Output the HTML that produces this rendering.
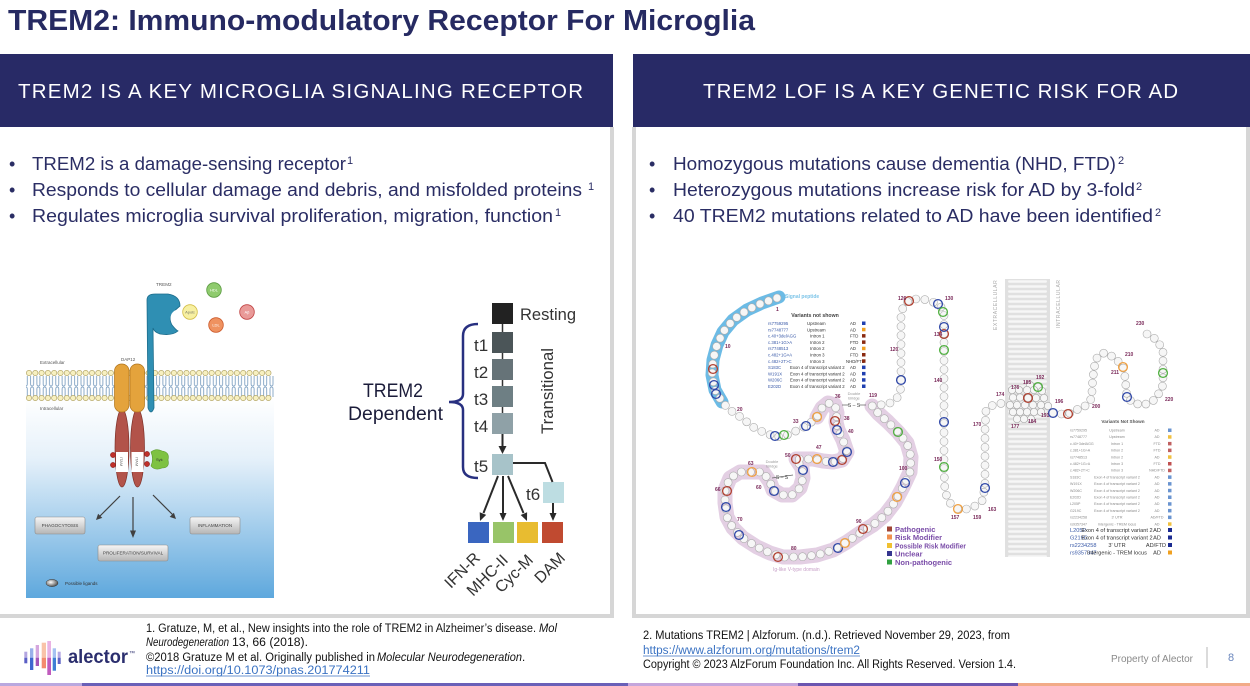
<!DOCTYPE html>
<html><head><meta charset="utf-8">
<style>
html,body{margin:0;padding:0;background:#fff;width:1250px;height:686px;overflow:hidden}
svg{display:block}
text{font-family:"Liberation Sans",Arial,sans-serif}
</style></head><body>
<svg width="1250" height="686" viewBox="0 0 1250 686" xmlns="http://www.w3.org/2000/svg">
<defs>
 <linearGradient id="cellbg" x1="0" y1="0" x2="0" y2="1">
  <stop offset="0" stop-color="#ffffff"/><stop offset="0.3" stop-color="#e6f1fa"/><stop offset="1" stop-color="#5ea8dd"/>
 </linearGradient>
 <linearGradient id="box" x1="0" y1="0" x2="0" y2="1"><stop offset="0" stop-color="#f6f6f6"/><stop offset="1" stop-color="#b5b5b5"/></linearGradient>
 <radialGradient id="lig" cx="0.4" cy="0.4" r="0.6"><stop offset="0" stop-color="#ffffff"/><stop offset="1" stop-color="#555"/></radialGradient>
 <pattern id="tails" width="6.3" height="24" patternUnits="userSpaceOnUse" x="29" y="375">
  <path d="M1.6,1 V9 Q1.6,11 3.1,11 Q4.6,11 4.6,9 V1 M1.6,22 V14 Q1.6,12 3.1,12 Q4.6,12 4.6,14 V22" stroke="#7096bb" stroke-width="0.8" fill="none"/>
 </pattern>
 <pattern id="mem" width="45" height="5" patternUnits="userSpaceOnUse" x="1005" y="279">
  <rect width="45" height="5" fill="#e0e0e0"/><rect x="3" y="1.3" width="39" height="2.4" rx="1.2" fill="#f6f6f6"/>
 </pattern>
</defs>

<!-- Title -->
<text x="8" y="30" font-size="29" font-weight="bold" fill="#262a62" textLength="747" lengthAdjust="spacingAndGlyphs">TREM2: Immuno-modulatory Receptor For Microglia</text>

<!-- Left panel -->
<rect x="0" y="54" width="613" height="73" fill="#282a66"/>
<rect x="610" y="127" width="4" height="491" fill="#d6d6d6"/>
<rect x="0" y="614" width="614" height="4" fill="#d6d6d6"/>
<text x="18" y="98" font-size="20.5" fill="#ffffff" textLength="565" lengthAdjust="spacing">TREM2 IS A KEY MICROGLIA SIGNALING RECEPTOR</text>

<g fill="#2a2d64">
 <text x="9" y="170" font-size="18">•</text>
 <text x="9" y="196" font-size="18">•</text>
 <text x="9" y="222" font-size="18">•</text>
 <text x="32" y="170" font-size="18" textLength="314" lengthAdjust="spacingAndGlyphs">TREM2 is a damage-sensing receptor</text>
 <text x="347" y="164" font-size="11">1</text>
 <text x="32" y="196" font-size="18" textLength="550" lengthAdjust="spacingAndGlyphs">Responds to cellular damage and debris, and misfolded proteins</text>
 <text x="588" y="190" font-size="11">1</text>
 <text x="32" y="222" font-size="18" textLength="521" lengthAdjust="spacingAndGlyphs">Regulates microglia survival proliferation, migration, function</text>
 <text x="555" y="216" font-size="11">1</text>
</g>

<!-- Right panel -->
<rect x="633" y="54" width="617" height="73" fill="#282a66"/>
<rect x="632" y="127" width="4" height="491" fill="#d6d6d6"/>
<rect x="1246" y="127" width="4" height="491" fill="#d6d6d6"/>
<rect x="632" y="614" width="618" height="4" fill="#d6d6d6"/>
<text x="703" y="98" font-size="20.5" fill="#ffffff" textLength="475" lengthAdjust="spacing">TREM2 LOF IS A KEY GENETIC RISK FOR AD</text>

<g fill="#2a2d64">
 <text x="649" y="170" font-size="18">•</text>
 <text x="649" y="196" font-size="18">•</text>
 <text x="649" y="222" font-size="18">•</text>
 <text x="673" y="170" font-size="18" textLength="443" lengthAdjust="spacingAndGlyphs">Homozygous mutations cause dementia (NHD, FTD)</text>
 <text x="1118" y="164" font-size="11">2</text>
 <text x="673" y="196" font-size="18" textLength="462" lengthAdjust="spacingAndGlyphs">Heterozygous mutations increase risk for AD by 3-fold</text>
 <text x="1136" y="190" font-size="11">2</text>
 <text x="673" y="222" font-size="18" textLength="480" lengthAdjust="spacingAndGlyphs">40 TREM2 mutations related to AD have been identified</text>
 <text x="1155" y="216" font-size="11">2</text>
</g>

<!-- ============ Left cell diagram ============ -->
<rect x="26" y="398" width="248" height="200" fill="url(#cellbg)"/>
<rect x="26" y="375" width="248" height="23" fill="url(#tails)"/>
<path d="M29,373 H273" stroke="#b5a86a" stroke-width="6" stroke-dasharray="0 6.3" stroke-linecap="round"/>
<path d="M29,373 H273" stroke="#f7f0c0" stroke-width="4.6" stroke-dasharray="0 6.3" stroke-linecap="round"/>
<path d="M29,398 H273" stroke="#b5a86a" stroke-width="6" stroke-dasharray="0 6.3" stroke-linecap="round"/>
<path d="M29,398 H273" stroke="#f7f0c0" stroke-width="4.6" stroke-dasharray="0 6.3" stroke-linecap="round"/>

<!-- TREM2 receptor -->
<path d="M147,300 Q147,294 155,294 L168,294 Q180,296 180,306 Q176,309 173,313 Q168,318 172,325 Q176,330 178,331 Q172,336 160,334 Q154,332 153,328 L154,408 Q151,416 148,408 L147,300 Z" fill="#2f8fb3" stroke="#1d6d8c" stroke-width="0.8"/>
<circle cx="179" cy="318" r="8.5" fill="#ffffff"/>
<text x="156" y="286" font-size="4.6" fill="#555">TREM2</text>

<!-- ligands -->
<circle cx="214" cy="290" r="7.3" fill="#8fcb6e" stroke="#5a9a40" stroke-width="0.8"/>
<text x="214" y="291.6" font-size="4" fill="#fff" text-anchor="middle">HDL</text>
<circle cx="190" cy="312" r="7.3" fill="#f7f0a2" stroke="#d2bc44" stroke-width="0.8"/>
<text x="190" y="313.6" font-size="4" fill="#776" text-anchor="middle">ApoE</text>
<circle cx="216" cy="325" r="7.3" fill="#ef9260" stroke="#cc5a2c" stroke-width="0.8"/>
<text x="216" y="326.6" font-size="4" fill="#fff" text-anchor="middle">LDL</text>
<circle cx="247" cy="312" r="7.3" fill="#e99a98" stroke="#c04242" stroke-width="0.8"/>
<text x="247" y="313.6" font-size="4" fill="#fff" text-anchor="middle">Aβ</text>

<text x="40" y="364" font-size="4.5" fill="#555">Extracellular</text>
<text x="40" y="410" font-size="4.5" fill="#555">Intracellular</text>
<text x="121" y="361" font-size="4.5" fill="#555">DAP12</text>

<!-- DAP12 -->
<ellipse cx="137.5" cy="448" rx="7" ry="39" fill="#b2534a" stroke="#7e3028" stroke-width="0.7"/>
<ellipse cx="122" cy="448" rx="7" ry="39" fill="#b2534a" stroke="#7e3028" stroke-width="0.7"/>
<rect x="114.5" y="364" width="14.5" height="48" rx="7" fill="#e4a33c" stroke="#b0741c" stroke-width="0.7"/>
<rect x="130" y="364" width="14.5" height="48" rx="7" fill="#e4a33c" stroke="#b0741c" stroke-width="0.7"/>
<rect x="116" y="452" width="12" height="20" fill="#ffffff"/>
<rect x="131.5" y="452" width="12" height="20" fill="#ffffff"/>
<text transform="translate(120,457) rotate(90)" font-size="4" fill="#666">ITAM</text>
<text transform="translate(135.5,457) rotate(90)" font-size="4" fill="#666">ITAM</text>
<circle cx="113" cy="455" r="2.6" fill="#c0302a" stroke="#7a1a1a" stroke-width="0.5"/>
<circle cx="113" cy="465" r="2.6" fill="#c0302a" stroke="#7a1a1a" stroke-width="0.5"/>
<circle cx="147" cy="454" r="2.6" fill="#c0302a" stroke="#7a1a1a" stroke-width="0.5"/>
<circle cx="147" cy="464" r="2.6" fill="#c0302a" stroke="#7a1a1a" stroke-width="0.5"/>
<path d="M151,452 Q156,448 162,451 Q170,452 168,460 Q170,468 162,468 Q155,471 151,466 Q154,459 151,452 Z" fill="#7ec242" stroke="#5a9a2a" stroke-width="0.6"/>
<text x="156" y="461" font-size="4" fill="#333">Syk</text>

<!-- arrows -->
<g stroke="#404040" stroke-width="1.2" fill="#404040">
 <line x1="120" y1="496" x2="99.5" y2="516.5"/>
 <line x1="133" y1="497" x2="133" y2="532"/>
 <line x1="153" y1="495" x2="172.5" y2="514.5"/>
</g>
<g fill="#404040">
 <polygon points="96,520 102.3,517.9 98.1,513.7"/>
 <polygon points="133,538 130,530.5 136,530.5"/>
 <polygon points="176,519 169.7,516.9 173.9,512.7"/>
</g>
<g stroke="#8a8a8a" stroke-width="0.6" fill="url(#box)">
 <rect x="35" y="517" width="50" height="17" rx="2"/>
 <rect x="190" y="517" width="50" height="17" rx="2"/>
 <rect x="98" y="545" width="70" height="16" rx="2"/>
</g>
<g font-size="4.6" fill="#444" text-anchor="middle">
 <text x="60" y="527">PHAGOCYTOSIS</text>
 <text x="215" y="527">INFLAMMATION</text>
 <text x="133" y="554.5">PROLIFERATION/SURVIVAL</text>
</g>
<ellipse cx="52" cy="583" rx="6" ry="3.6" fill="url(#lig)" stroke="#333" stroke-width="0.5"/>
<text x="65" y="585" font-size="4.5" fill="#333">Possible ligands</text>

<!-- ============ Middle diagram ============ -->
<line x1="502.5" y1="323" x2="502.5" y2="414" stroke="#333" stroke-width="1.5"/>
<rect x="492" y="303" width="21" height="21" fill="#222222"/>
<rect x="492" y="332" width="21" height="21" fill="#4b5558"/>
<rect x="492" y="359" width="21" height="21" fill="#667378"/>
<rect x="492" y="386" width="21" height="21" fill="#6e7f84"/>
<rect x="492" y="413" width="21" height="21" fill="#8fa1a7"/>
<rect x="492" y="454" width="21" height="21" fill="#a7c3c9"/>
<rect x="543" y="482" width="21" height="21" fill="#bddde2"/>
<rect x="468" y="522" width="21" height="21" fill="#3a66c0"/>
<rect x="493" y="522" width="21" height="21" fill="#98c468"/>
<rect x="517" y="522" width="21" height="21" fill="#e8bc30"/>
<rect x="542" y="522" width="21" height="21" fill="#c04a30"/>

<g stroke="#2a2a2a" stroke-width="2" fill="none">
 <line x1="502.5" y1="434" x2="502.5" y2="447"/>
 <path d="M513,463 H545 L552.5,482"/>
 <line x1="498" y1="476" x2="483.5" y2="513"/>
 <line x1="503" y1="476" x2="503" y2="514"/>
 <line x1="508" y1="476" x2="523.5" y2="513"/>
 <line x1="553" y1="503" x2="553" y2="514"/>
</g>
<g fill="#2a2a2a">
 <polygon points="502.5,454 498.5,446 506.5,446"/>
 <polygon points="480,521 486.2,514.9 479.7,512.3"/>
 <polygon points="503,521 499.5,513 506.5,513"/>
 <polygon points="527,521 520.7,515 527.1,512.2"/>
 <polygon points="553,521 549.5,513 556.5,513"/>
</g>
<g font-size="17" fill="#333">
 <text x="520" y="320" textLength="56" lengthAdjust="spacingAndGlyphs">Resting</text>
 <text x="474" y="351">t1</text>
 <text x="474" y="378">t2</text>
 <text x="474" y="405">t3</text>
 <text x="474" y="432">t4</text>
 <text x="474" y="472">t5</text>
 <text x="526" y="500">t6</text>
 <text transform="translate(553,434) rotate(-90)" textLength="86" lengthAdjust="spacingAndGlyphs">Transitional</text>
 <text transform="translate(481,559) rotate(-45)" text-anchor="end" font-size="16">IFN-R</text>
 <text transform="translate(509,561) rotate(-45)" text-anchor="end" font-size="16">MHC-II</text>
 <text transform="translate(534,561) rotate(-45)" text-anchor="end" font-size="16">Cyc-M</text>
 <text transform="translate(566,559) rotate(-45)" text-anchor="end" font-size="16">DAM</text>
</g>
<path d="M478,324 Q463,324 463,336 L463,394 Q463,402 449,402 Q463,402 463,410 L463,467 Q463,478 478,478" fill="none" stroke="#283080" stroke-width="2.5"/>
<text x="363" y="397" font-size="19" fill="#1b1c3a" textLength="60" lengthAdjust="spacingAndGlyphs">TREM2</text>
<text x="348" y="420" font-size="19" fill="#1b1c3a" textLength="95" lengthAdjust="spacingAndGlyphs">Dependent</text>

<!-- ============ Right protein diagram ============ -->
<rect x="1005" y="279" width="45" height="278" fill="url(#mem)"/>
<text transform="translate(997,330) rotate(-90)" font-size="5" fill="#aaa" letter-spacing="0.6">EXTRACELLULAR</text>
<text transform="translate(1060,328) rotate(-90)" font-size="5" fill="#aaa" letter-spacing="0.6">INTRACELLULAR</text>

<!-- bands -->
<path d="M779,297 L762,303 747,310 733,320 723,332 717,345 713,360 712,375 715,390 722,402" fill="none" stroke="#6cbbe5" stroke-width="13" stroke-linecap="round" stroke-linejoin="round"/>
<path d="M817,417 L822,408 828,403 835,405 837,413 836,422 838,430 843,440 847,452 842,460 833,462 823,461 813,459 803,459 796,459 802,468 803,478 800,488 792,495 782,495 773,490 770,482 763,472 752,472 740,472 730,478 725,490 725,503 727,517 733,528 743,538 757,547 770,553 783,557 800,557 817,555 833,550 847,542 860,533 873,525 885,515 895,502 903,487 910,472 911,457 907,443 898,432 888,422 878,413 872,406" fill="none" stroke="#e3cfe3" stroke-width="15" stroke-linecap="round" stroke-linejoin="round"/>

<!-- S-S bridges -->
<line x1="842" y1="405" x2="866" y2="405" stroke="#666" stroke-width="0.8"/>
<rect x="849" y="402" width="10" height="6" fill="#fff"/>
<text x="854" y="407" font-size="5" fill="#444" text-anchor="middle">S – S</text>
<text x="854" y="395" font-size="4" fill="#999" text-anchor="middle">Double</text>
<text x="854" y="399.5" font-size="4" fill="#999" text-anchor="middle">Bridge</text>
<line x1="772" y1="478" x2="793" y2="475" stroke="#666" stroke-width="0.8"/>
<text x="782" y="479" font-size="5" fill="#444" text-anchor="middle">S – S</text>
<text x="772" y="463" font-size="4" fill="#999" text-anchor="middle">Double</text>
<text x="772" y="467.5" font-size="4" fill="#999" text-anchor="middle">Bridge</text>

<!-- chain -->
<g fill="none" stroke-linecap="round" stroke-linejoin="round">
 <path d="M777,298 L762,303 747,310 733,320 723,332 717,345 713,360 712,375 715,390 722,402 730,410 742,418 753,427 765,433 777,437 787,435 798,430 808,425 817,417 822,408 828,403 835,405 837,413 836,422 838,430 843,440 847,452 842,460 833,462 823,461 813,459 803,459 796,459 802,468 803,478 800,488 792,495 782,495 773,490 770,482 763,472 752,472 740,472 730,478 725,490 725,503 727,517 733,528 743,538 757,547 770,553 783,557 800,557 817,555 833,550 847,542 860,533 873,525 885,515 895,502 903,487 910,472 911,457 907,443 898,432 888,422 878,413 872,406 880,405 890,403 897,398 901,388 901,370 901,350 901,330 901,313 905,303 913,299 923,299 933,302 941,307 944,315 944,337 944,370 944,403 944,437 944,470 945,492 950,503 958,509 967,509 975,506 983,500 985,483 985,457 985,430 986,410 993,405 1003,403" stroke="#ababab" stroke-width="8.6" stroke-dasharray="0 9"/>
 <path d="M777,298 L762,303 747,310 733,320 723,332 717,345 713,360 712,375 715,390 722,402 730,410 742,418 753,427 765,433 777,437 787,435 798,430 808,425 817,417 822,408 828,403 835,405 837,413 836,422 838,430 843,440 847,452 842,460 833,462 823,461 813,459 803,459 796,459 802,468 803,478 800,488 792,495 782,495 773,490 770,482 763,472 752,472 740,472 730,478 725,490 725,503 727,517 733,528 743,538 757,547 770,553 783,557 800,557 817,555 833,550 847,542 860,533 873,525 885,515 895,502 903,487 910,472 911,457 907,443 898,432 888,422 878,413 872,406 880,405 890,403 897,398 901,388 901,370 901,350 901,330 901,313 905,303 913,299 923,299 933,302 941,307 944,315 944,337 944,370 944,403 944,437 944,470 945,492 950,503 958,509 967,509 975,506 983,500 985,483 985,457 985,430 986,410 993,405 1003,403" stroke="#f6f6f6" stroke-width="7.4" stroke-dasharray="0 9"/>
 <path d="M1053,413 L1060,414 1068,414 1076,410 1085,406 1092,398 1092,388 1093,378 1094,368 1097,358 1103,353 1110,355 1117,360 1123,367 1125,377 1126,387 1127,397 1133,403 1143,405 1152,402 1158,395 1163,385 1163,373 1163,360 1163,350 1158,342 1153,337 1147,334 1139,332" stroke="#ababab" stroke-width="8.6" stroke-dasharray="0 8.5"/>
 <path d="M1053,413 L1060,414 1068,414 1076,410 1085,406 1092,398 1092,388 1093,378 1094,368 1097,358 1103,353 1110,355 1117,360 1123,367 1125,377 1126,387 1127,397 1133,403 1143,405 1152,402 1158,395 1163,385 1163,373 1163,360 1163,350 1158,342 1153,337 1147,334 1139,332" stroke="#f6f6f6" stroke-width="7.4" stroke-dasharray="0 8.5"/>
</g>
<!-- TM helix cluster -->
<g fill="#f6f6f6" stroke="#ababab" stroke-width="0.7">
 <circle cx="1030" cy="385" r="3.7"/><circle cx="1038" cy="387" r="3.7"/>
 <circle cx="1012" cy="390" r="3.7"/><circle cx="1019" cy="390" r="3.7"/><circle cx="1027" cy="390" r="3.7"/><circle cx="1034" cy="390" r="3.7"/><circle cx="1042" cy="391" r="3.7"/>
 <circle cx="1013" cy="397.5" r="3.7"/><circle cx="1020" cy="397.5" r="3.7"/><circle cx="1028" cy="398" r="3.7"/><circle cx="1036" cy="398" r="3.7"/><circle cx="1044" cy="398" r="3.7"/>
 <circle cx="1010" cy="405" r="3.7"/><circle cx="1017" cy="405" r="3.7"/><circle cx="1025" cy="405" r="3.7"/><circle cx="1033" cy="405" r="3.7"/><circle cx="1041" cy="405" r="3.7"/><circle cx="1048" cy="406" r="3.7"/>
 <circle cx="1013" cy="412" r="3.7"/><circle cx="1020" cy="412" r="3.7"/><circle cx="1027" cy="412" r="3.7"/><circle cx="1034" cy="412" r="3.7"/><circle cx="1041" cy="412" r="3.7"/>
 <circle cx="1017" cy="419" r="3.7"/><circle cx="1024" cy="419" r="3.7"/><circle cx="1031" cy="419" r="3.7"/>
</g>
<!-- mutation highlights -->
<g fill="none" stroke-width="1.3">
 <g stroke="#b04030">
  <circle cx="713" cy="369" r="4.4"/><circle cx="835" cy="421" r="4.4"/><circle cx="842" cy="460" r="4.4"/><circle cx="796" cy="459" r="4.4"/><circle cx="727" cy="491" r="4.4"/><circle cx="778" cy="557" r="4.4"/><circle cx="863" cy="529" r="4.4"/><circle cx="909" cy="301" r="4.4"/><circle cx="944" cy="334" r="4.4"/><circle cx="1028" cy="398" r="4.4"/><circle cx="1068" cy="414" r="4.4"/>
 </g>
 <g stroke="#3048a8">
  <circle cx="714" cy="385" r="4.4"/><circle cx="716" cy="394" r="4.4"/><circle cx="775" cy="436" r="4.4"/><circle cx="806" cy="426" r="4.4"/><circle cx="837" cy="430" r="4.4"/><circle cx="847" cy="452" r="4.4"/><circle cx="833" cy="462" r="4.4"/><circle cx="803" cy="470" r="4.4"/><circle cx="774" cy="491" r="4.4"/><circle cx="726" cy="507" r="4.4"/><circle cx="739" cy="535" r="4.4"/><circle cx="838" cy="548" r="4.4"/><circle cx="905" cy="483" r="4.4"/><circle cx="901" cy="380" r="4.4"/><circle cx="938" cy="304" r="4.4"/><circle cx="944" cy="327" r="4.4"/><circle cx="944" cy="422" r="4.4"/><circle cx="985" cy="488" r="4.4"/><circle cx="1053" cy="413" r="4.4"/><circle cx="1127" cy="397" r="4.4"/>
 </g>
 <g stroke="#f0a040">
  <circle cx="817" cy="417" r="4.4"/><circle cx="817" cy="459" r="4.4"/><circle cx="752" cy="472" r="4.4"/><circle cx="845" cy="543" r="4.4"/><circle cx="897" cy="497" r="4.4"/><circle cx="958" cy="509" r="4.4"/><circle cx="1123" cy="367" r="4.4"/>
 </g>
 <g stroke="#50b040">
  <circle cx="784" cy="435" r="4.4"/><circle cx="898" cy="432" r="4.4"/><circle cx="943" cy="312" r="4.4"/><circle cx="944" cy="350" r="4.4"/><circle cx="944" cy="467" r="4.4"/><circle cx="1038" cy="387" r="4.4"/><circle cx="1163" cy="373" r="4.4"/>
 </g>
</g>
<!-- residue numbers -->
<g font-size="5" font-weight="bold" fill="#7a2a5a">
 <text x="776" y="311">1</text><text x="725" y="348">10</text><text x="737" y="411">20</text><text x="793" y="423">33</text>
 <text x="835" y="398">36</text><text x="844" y="420">38</text><text x="848" y="433">40</text><text x="816" y="449">47</text>
 <text x="785" y="457">50</text><text x="748" y="465">63</text><text x="756" y="489">60</text><text x="715" y="491">66</text>
 <text x="737" y="521">70</text><text x="791" y="550">80</text><text x="856" y="523">90</text><text x="899" y="470">100</text>
 <text x="869" y="397">119</text><text x="890" y="351">120</text><text x="898" y="300">126</text><text x="945" y="300">130</text>
 <text x="934" y="336">134</text><text x="934" y="382">140</text><text x="934" y="461">150</text><text x="951" y="519">157</text>
 <text x="973" y="519">159</text><text x="973" y="426">170</text><text x="996" y="396">174</text><text x="1011" y="389">176</text>
 <text x="1011" y="428">177</text><text x="1023" y="384">185</text><text x="1036" y="379">192</text><text x="1028" y="423">184</text>
 <text x="1041" y="417">191</text><text x="1055" y="403">196</text><text x="1092" y="408">200</text><text x="1125" y="356">210</text>
 <text x="1111" y="374">211</text><text x="1165" y="401">220</text><text x="1136" y="325">230</text><text x="988" y="511">163</text>
</g>
<text x="785" y="298" font-size="5" font-weight="bold" fill="#7cc4e8">Signal peptide</text>
<text x="773" y="571" font-size="5" fill="#c8a0c8">Ig-like V-type domain</text>

<!-- left variants table -->
<text x="815" y="317" font-size="5.2" font-weight="bold" fill="#444" text-anchor="middle">Variants not shown</text>
<g font-size="4.3" fill="#333">
 <text x="768" y="325" fill="#3a5aa8">rs7759295</text><text x="807" y="325">Upstream</text><text x="850" y="325">AD</text>
 <text x="768" y="331.3" fill="#3a5aa8">rs7748777</text><text x="807" y="331.3">Upstream</text><text x="850" y="331.3">AD</text>
 <text x="768" y="337.6" fill="#3a5aa8">c.40+3delAGG</text><text x="810" y="337.6">Intron 1</text><text x="850" y="337.6">FTD</text>
 <text x="768" y="343.9" fill="#3a5aa8">c.381+1G&gt;A</text><text x="810" y="343.9">Intron 2</text><text x="850" y="343.9">FTD</text>
 <text x="768" y="350.2" fill="#3a5aa8">rs7748513</text><text x="810" y="350.2">Intron 2</text><text x="850" y="350.2">AD</text>
 <text x="768" y="356.5" fill="#3a5aa8">c.482+1G&gt;A</text><text x="810" y="356.5">Intron 3</text><text x="850" y="356.5">FTD</text>
 <text x="768" y="362.8" fill="#3a5aa8">c.482+2T&gt;C</text><text x="810" y="362.8">Intron 3</text><text x="846" y="362.8">NHD/FTD</text>
 <text x="768" y="369.1" fill="#3a5aa8">S183C</text><text x="790" y="369.1">Exon 4 of transcript variant 2</text><text x="850" y="369.1">AD</text>
 <text x="768" y="375.4" fill="#3a5aa8">W191X</text><text x="790" y="375.4">Exon 4 of transcript variant 2</text><text x="850" y="375.4">AD</text>
 <text x="768" y="381.7" fill="#3a5aa8">W206C</text><text x="790" y="381.7">Exon 4 of transcript variant 2</text><text x="850" y="381.7">AD</text>
 <text x="768" y="388" fill="#3a5aa8">E202D</text><text x="790" y="388">Exon 4 of transcript variant 2</text><text x="850" y="388">AD</text>
</g>
<g>
 <rect x="862" y="321.5" width="3.5" height="3.5" fill="#2040b0"/>
 <rect x="862" y="327.8" width="3.5" height="3.5" fill="#f0a020"/>
 <rect x="862" y="334.1" width="3.5" height="3.5" fill="#8a2a10"/>
 <rect x="862" y="340.4" width="3.5" height="3.5" fill="#8a2a10"/>
 <rect x="862" y="346.7" width="3.5" height="3.5" fill="#f0a020"/>
 <rect x="862" y="353" width="3.5" height="3.5" fill="#8a2a10"/>
 <rect x="862" y="359.3" width="3.5" height="3.5" fill="#8a2a10"/>
 <rect x="862" y="365.6" width="3.5" height="3.5" fill="#2040b0"/>
 <rect x="862" y="371.9" width="3.5" height="3.5" fill="#2040b0"/>
 <rect x="862" y="378.2" width="3.5" height="3.5" fill="#2040b0"/>
 <rect x="862" y="384.5" width="3.5" height="3.5" fill="#2040b0"/>
</g>

<!-- legend -->
<rect x="887" y="526.5" width="5" height="5" fill="#a04535"/>
<rect x="887" y="534.5" width="5" height="5" fill="#f09050"/>
<rect x="887" y="543" width="5" height="5" fill="#f0c030"/>
<rect x="887" y="551" width="5" height="5" fill="#35358f"/>
<rect x="887" y="559.5" width="5" height="5" fill="#30a040"/>
<g font-size="7.5" font-weight="bold" fill="#7a4ca8">
 <text x="895" y="532">Pathogenic</text>
 <text x="895" y="540">Risk Modifier</text>
 <text x="895" y="548.5" textLength="71" lengthAdjust="spacingAndGlyphs">Possible Risk Modifier</text>
 <text x="895" y="556.5">Unclear</text>
 <text x="895" y="565">Non-pathogenic</text>
</g>

<!-- right variants table -->
<text x="1123" y="423" font-size="4.6" font-weight="bold" fill="#555" text-anchor="middle">Variants Not Shown</text>
<g font-size="3.6" fill="#8a8a8a">
 <text x="1070" y="431.5">rs7759295</text><text x="1117" y="431.5" text-anchor="middle">Upstream</text><text x="1157" y="431.5" text-anchor="middle">AD</text>
 <text x="1070" y="438.2">rs7748777</text><text x="1117" y="438.2" text-anchor="middle">Upstream</text><text x="1157" y="438.2" text-anchor="middle">AD</text>
 <text x="1070" y="444.9">c.40+3delAGG</text><text x="1117" y="444.9" text-anchor="middle">Intron 1</text><text x="1157" y="444.9" text-anchor="middle">FTD</text>
 <text x="1070" y="451.6">c.381+1G&gt;A</text><text x="1117" y="451.6" text-anchor="middle">Intron 2</text><text x="1157" y="451.6" text-anchor="middle">FTD</text>
 <text x="1070" y="458.3">rs7748513</text><text x="1117" y="458.3" text-anchor="middle">Intron 2</text><text x="1157" y="458.3" text-anchor="middle">AD</text>
 <text x="1070" y="465">c.482+1G&gt;A</text><text x="1117" y="465" text-anchor="middle">Intron 3</text><text x="1157" y="465" text-anchor="middle">FTD</text>
 <text x="1070" y="471.7">c.482+2T&gt;C</text><text x="1117" y="471.7" text-anchor="middle">Intron 3</text><text x="1157" y="471.7" text-anchor="middle">NHD/FTD</text>
 <text x="1070" y="478.4">S183C</text><text x="1117" y="478.4" text-anchor="middle">Exon 4 of transcript variant 2</text><text x="1157" y="478.4" text-anchor="middle">AD</text>
 <text x="1070" y="485.1">W191X</text><text x="1117" y="485.1" text-anchor="middle">Exon 4 of transcript variant 2</text><text x="1157" y="485.1" text-anchor="middle">AD</text>
 <text x="1070" y="491.8">W206C</text><text x="1117" y="491.8" text-anchor="middle">Exon 4 of transcript variant 2</text><text x="1157" y="491.8" text-anchor="middle">AD</text>
 <text x="1070" y="498.5">E202D</text><text x="1117" y="498.5" text-anchor="middle">Exon 4 of transcript variant 2</text><text x="1157" y="498.5" text-anchor="middle">AD</text>
 <text x="1070" y="505.2">L205P</text><text x="1117" y="505.2" text-anchor="middle">Exon 4 of transcript variant 2</text><text x="1157" y="505.2" text-anchor="middle">AD</text>
 <text x="1070" y="511.9">G219C</text><text x="1117" y="511.9" text-anchor="middle">Exon 4 of transcript variant 2</text><text x="1157" y="511.9" text-anchor="middle">AD</text>
 <text x="1070" y="518.6">rs2234258</text><text x="1117" y="518.6" text-anchor="middle">3' UTR</text><text x="1157" y="518.6" text-anchor="middle">AD/FTD</text>
 <text x="1070" y="525.3">rs9357347</text><text x="1117" y="525.3" text-anchor="middle">Intergenic - TREM locus</text><text x="1157" y="525.3" text-anchor="middle">AD</text>
</g>
<g font-size="5.6" fill="#333">
 <text x="1070" y="532" fill="#3a5aa8">L205P</text><text x="1117" y="532" text-anchor="middle">Exon 4 of transcript variant 2</text><text x="1157" y="532" text-anchor="middle">AD</text>
 <text x="1070" y="539.5" fill="#3a5aa8">G219C</text><text x="1117" y="539.5" text-anchor="middle">Exon 4 of transcript variant 2</text><text x="1157" y="539.5" text-anchor="middle">AD</text>
 <text x="1070" y="547" fill="#3a5aa8">rs2234258</text><text x="1117" y="547" text-anchor="middle">3' UTR</text><text x="1156" y="547" text-anchor="middle">AD/FTD</text>
 <text x="1070" y="554.5" fill="#3a5aa8">rs9357347</text><text x="1117" y="554.5" text-anchor="middle">Intergenic - TREM locus</text><text x="1157" y="554.5" text-anchor="middle">AD</text>
</g>
<g>
 <rect x="1168" y="428.5" width="3.5" height="3.5" fill="#6a94d0"/>
 <rect x="1168" y="435.2" width="3.5" height="3.5" fill="#f0c040"/>
 <rect x="1168" y="441.9" width="3.5" height="3.5" fill="#c06060"/>
 <rect x="1168" y="448.6" width="3.5" height="3.5" fill="#c06060"/>
 <rect x="1168" y="455.3" width="3.5" height="3.5" fill="#f0c040"/>
 <rect x="1168" y="462" width="3.5" height="3.5" fill="#c05050"/>
 <rect x="1168" y="468.7" width="3.5" height="3.5" fill="#c06060"/>
 <rect x="1168" y="475.4" width="3.5" height="3.5" fill="#6a94d0"/>
 <rect x="1168" y="482.1" width="3.5" height="3.5" fill="#6a94d0"/>
 <rect x="1168" y="488.8" width="3.5" height="3.5" fill="#6a94d0"/>
 <rect x="1168" y="495.5" width="3.5" height="3.5" fill="#6a94d0"/>
 <rect x="1168" y="502.2" width="3.5" height="3.5" fill="#6a94d0"/>
 <rect x="1168" y="508.9" width="3.5" height="3.5" fill="#6a94d0"/>
 <rect x="1168" y="515.6" width="3.5" height="3.5" fill="#6a94d0"/>
 <rect x="1168" y="522.3" width="3.5" height="3.5" fill="#f0c040"/>
 <rect x="1168" y="528" width="4" height="4" fill="#1a2a90"/>
 <rect x="1168" y="535.5" width="4" height="4" fill="#1a2a90"/>
 <rect x="1168" y="543" width="4" height="4" fill="#1a2a90"/>
 <rect x="1168" y="550.5" width="4" height="4" fill="#f0a020"/>
</g>

<!-- ============ Footer ============ -->
<g>
 <rect x="24.3" y="651.7" width="3" height="6" fill="#b3a6e0"/><rect x="24.3" y="657.7" width="3" height="5.6" fill="#5a5fc5"/>
 <rect x="30" y="648.3" width="3.3" height="9.4" fill="#9ab0ea"/><rect x="30" y="657.7" width="3.3" height="12.3" fill="#3f66cf"/>
 <rect x="35.7" y="645" width="3.3" height="12.7" fill="#d5a6de"/><rect x="35.7" y="657.7" width="3.3" height="8.3" fill="#a354b9"/>
 <rect x="41.7" y="642.7" width="4.3" height="15" fill="#f9c3a9"/><rect x="41.7" y="657.7" width="4.3" height="10.6" fill="#f48b6f"/>
 <rect x="47.3" y="641" width="3.7" height="16.7" fill="#e9b2e4"/><rect x="47.3" y="657.7" width="3.7" height="17.3" fill="#c05bbd"/>
 <rect x="52.7" y="648.3" width="3.3" height="9.4" fill="#a6c2f1"/><rect x="52.7" y="657.7" width="3.3" height="13" fill="#3f7fd4"/>
 <rect x="57.7" y="651.7" width="3" height="6" fill="#b5a9e3"/><rect x="57.7" y="657.7" width="3" height="6.3" fill="#5e63c6"/>
</g>
<text x="68" y="663" font-size="19" font-weight="bold" fill="#2b2e6e" textLength="60" lengthAdjust="spacingAndGlyphs">alector</text>
<text x="129" y="655" font-size="6" fill="#2b2e6e">™</text>

<g font-size="11.5" fill="#111">
 <text x="146" y="632" textLength="390" lengthAdjust="spacingAndGlyphs">1. Gratuze, M, et al., New insights into the role of TREM2 in Alzheimer’s disease.</text>
 <text x="539" y="632" font-style="italic" textLength="18" lengthAdjust="spacingAndGlyphs">Mol</text>
 <text x="146" y="646" font-style="italic" textLength="83" lengthAdjust="spacingAndGlyphs">Neurodegeneration</text>
 <text x="232" y="646" textLength="76" lengthAdjust="spacingAndGlyphs">13, 66 (2018).</text>
 <text x="146" y="661" textLength="229" lengthAdjust="spacingAndGlyphs">©2018 Gratuze M et al. Originally published in</text>
 <text x="377" y="661" font-style="italic" textLength="145" lengthAdjust="spacingAndGlyphs">Molecular Neurodegeneration</text>
 <text x="522" y="661">.</text>
 <text x="146" y="674" fill="#3b73c3" textLength="224" lengthAdjust="spacingAndGlyphs">https://doi.org/10.1073/pnas.201774211</text>
 <text x="643" y="639" textLength="367" lengthAdjust="spacingAndGlyphs">2. Mutations TREM2 | Alzforum. (n.d.). Retrieved November 29, 2023, from</text>
 <text x="643" y="654" fill="#3b73c3" textLength="217" lengthAdjust="spacingAndGlyphs">https://www.alzforum.org/mutations/trem2</text>
 <text x="643" y="668" textLength="373" lengthAdjust="spacingAndGlyphs">Copyright © 2023 AlzForum Foundation Inc. All Rights Reserved. Version 1.4.</text>
</g>
<line x1="146" y1="676" x2="370" y2="676" stroke="#3b73c3" stroke-width="0.8"/>
<line x1="643" y1="656" x2="860" y2="656" stroke="#3b73c3" stroke-width="0.8"/>

<text x="1111" y="662" font-size="10" fill="#8a8a8a" textLength="82" lengthAdjust="spacingAndGlyphs">Property of Alector</text>
<line x1="1207" y1="647" x2="1207" y2="668" stroke="#cfcfcf" stroke-width="1.5"/>
<text x="1228" y="661" font-size="11" fill="#6a86bd">8</text>

<!-- bottom stripe -->
<rect x="0" y="683" width="82" height="3" fill="#b9a8df"/>
<rect x="82" y="683" width="546" height="3" fill="#6a60b8"/>
<rect x="628" y="683" width="170" height="3" fill="#c4a6dc"/>
<rect x="798" y="683" width="220" height="3" fill="#6b55b0"/>
<rect x="1018" y="683" width="232" height="3" fill="#f2ab88"/>
</svg>
</body></html>
